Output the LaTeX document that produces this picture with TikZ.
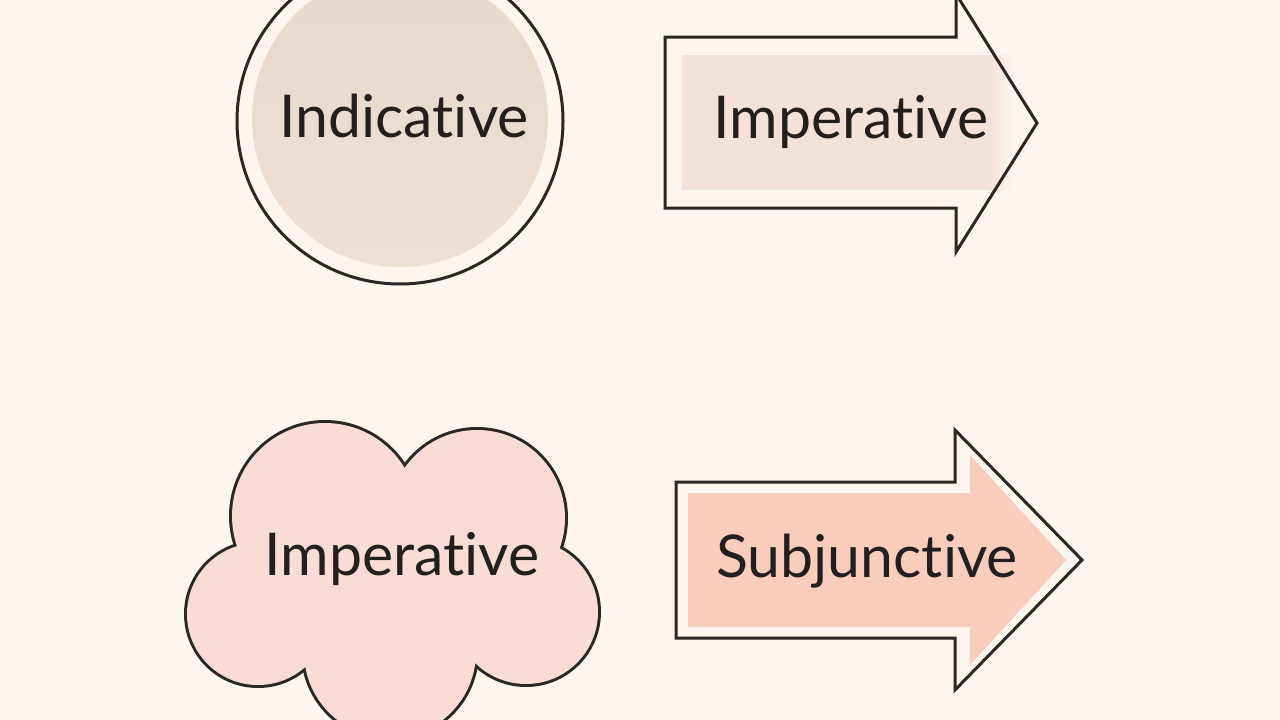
\documentclass[tikz,border=0pt]{standalone}
\usepackage{fontspec}
\setmainfont[Ligatures={NoCommon}]{Lato}
\definecolor{bg}{HTML}{FCF6EE}
\definecolor{ink}{HTML}{2A2727}
\definecolor{txt}{HTML}{231F1E}
\definecolor{circfillA}{HTML}{E6D9CA}
\definecolor{circfillB}{HTML}{ECE1D4}
\definecolor{arrowonefill}{HTML}{F4E2DA}
\definecolor{cloudfill}{HTML}{F8DCD5}
\definecolor{arrowtwofill}{HTML}{F9CDBB}
\tikzset{
  outline/.style={draw=ink, line width=3pt, line join=miter},
  label/.style={text=txt, anchor=base, inner sep=0pt, font=\fontsize{59}{62}\selectfont}
}
\begin{document}
\begin{tikzpicture}[x=1pt,y=-1pt]
\useasboundingbox (0,0) rectangle (1280,720);
\clip (0,0) rectangle (1280,720);
\fill[bg] (0,0) rectangle (1280,720);

% Circle
\shade[top color=circfillA, bottom color=circfillB] (400,119) circle (148);
\draw[outline] (400,121) circle (163);
\node[label] (indicative) at (404,137) {Indicative};

% Arrow 1
\fill[arrowonefill] (682,55) rectangle (990,190);
\shade[left color=arrowonefill, right color=bg] (989,55) rectangle (1012,190);
\draw[outline] (665,37) -- (956,37) -- (956,-6) -- (1037,123) -- (956,252) -- (956,208) -- (665,208) -- cycle;
\node[label] (imperativeA) at (851,138) {Imperative};

% Cloud
\begin{scope}
\foreach \cx/\cy/\r in {325/516/93, 477/518/88, 526/612/72, 390/652/86, 258/614/71}
  \draw[ink, line width=6pt] (\cx,\cy) circle (\r);
\foreach \cx/\cy/\r in {325/516/93, 477/518/88, 526/612/72, 390/652/86, 258/614/71}
  \fill[cloudfill] (\cx,\cy) circle (\r);
\fill[cloudfill] (325,516) -- (477,518) -- (526,612) -- (390,652) -- (258,614) -- cycle;
\end{scope}
\node[label] (imperativeB) at (402,575) {Imperative};

% Arrow 2
\fill[arrowtwofill] (688,493) -- (970,493) -- (970,455) -- (1066,560) -- (970,665) -- (970,627) -- (688,627) -- cycle;
\draw[outline] (676,482) -- (955,482) -- (955,430) -- (1082,560) -- (955,690) -- (955,638) -- (676,638) -- cycle;
\node[label] (subjunctive) at (867,577) {Subjunctive};
\end{tikzpicture}
\end{document}
